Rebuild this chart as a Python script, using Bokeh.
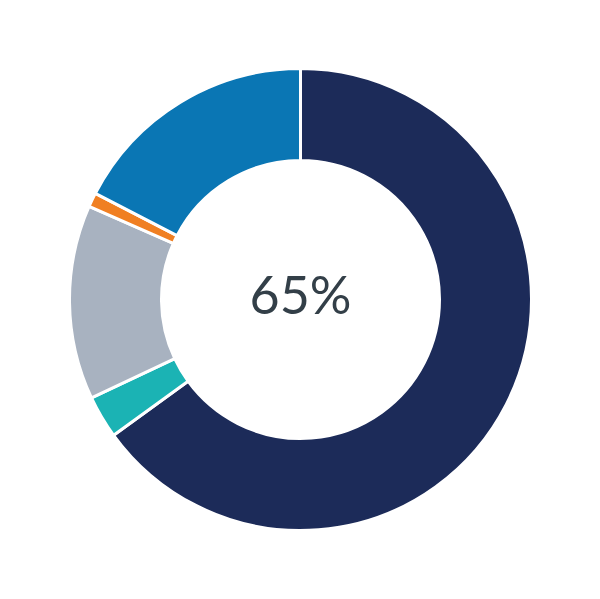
import math
from bokeh.plotting import figure
from bokeh.models import Range1d, ColumnDataSource
from bokeh.core.properties import value
from bokeh.embed import file_html
from bokeh.resources import INLINE

categories = ["A", "B", "C", "D", "E"]
shares = [65.0, 3.0, 13.6, 1.0, 17.4]
colors = ["#1c2b59", "#1bb3b4", "#a8b2c0", "#f07f22", "#0a76b4"]
center_label = "65%"

total = sum(shares)
starts, ends = [], []
acc = 0.0
for s in shares:
    starts.append(math.pi / 2 - acc / total * 2 * math.pi)
    acc += s
    ends.append(math.pi / 2 - acc / total * 2 * math.pi)

src = ColumnDataSource(dict(cat=categories, start=starts, end=ends, color=colors))

W, H = 584, 583
cx, cy = 300, 299
p = figure(width=W, height=H, output_backend="svg", toolbar_location=None,
           x_range=Range1d(-cx, W - cx), y_range=Range1d(-(H - cy), cy),
           min_border=0)
p.axis.visible = False
p.grid.visible = False
p.outline_line_color = None
p.background_fill_color = "white"

p.annular_wedge(x=0, y=0, inner_radius=139, outer_radius=231,
                start_angle="start", end_angle="end", direction="clock",
                fill_color="color", line_color="white", line_width=3, source=src)

p.text(x=[0], y=[0], text=[center_label], text_font=value("Lato"),
       text_font_size="52px", text_color="#333f48", text_align="center",
       text_baseline="middle", y_offset=-6)

open("out.html", "w").write(file_html(p, INLINE))
